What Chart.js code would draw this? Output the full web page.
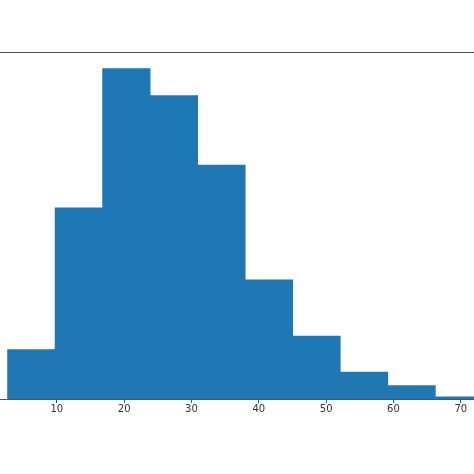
<!DOCTYPE html>
<html>
<head>
<meta charset="utf-8">
<script src="https://cdn.jsdelivr.net/npm/chart.js@4/dist/chart.umd.min.js"></script>
<style>
  html, body { margin: 0; padding: 0; background: #ffffff; }
  #wrap { width: 474px; height: 474px; }
</style>
</head>
<body>
<div id="wrap"><canvas id="c" width="474" height="474"></canvas></div>
<script>
// Histogram data
const binEdges = [2.68, 9.74, 16.80, 23.86, 30.92, 37.98, 45.04, 52.10, 59.16, 66.22, 73.28];
const counts = [22, 85, 147, 135, 104, 53, 28, 12, 6, 1];
const tickValues = [10, 20, 30, 40, 50, 60, 70];

// Visible window of the (cropped) axes
const xMin = 1.56, xMax = 71.96;
const yMin = 0, yMax = 154.35;

const points = counts.map((c, i) => ({ x: (binEdges[i] + binEdges[i + 1]) / 2, y: c }));

const topSpine = {
  id: 'topSpine',
  afterDraw(chart) {
    const { ctx, chartArea } = chart;
    ctx.save();
    ctx.strokeStyle = '#555';
    ctx.lineWidth = 1;
    ctx.beginPath();
    ctx.moveTo(chartArea.left, Math.round(chartArea.top) + 0.5);
    ctx.lineTo(chartArea.right, Math.round(chartArea.top) + 0.5);
    ctx.stroke();
    ctx.restore();
  }
};

new Chart(document.getElementById('c'), {
  type: 'bar',
  data: {
    datasets: [{
      data: points,
      backgroundColor: '#1f77b4',
      borderWidth: 0,
      barPercentage: 1.0,
      categoryPercentage: 1.0
    }]
  },
  options: {
    responsive: false,
    animation: false,
    devicePixelRatio: 1,
    layout: { padding: { top: 52, bottom: 59, left: 0, right: 0 } },
    plugins: { legend: { display: false }, tooltip: { enabled: false } },
    scales: {
      x: {
        type: 'linear',
        min: xMin,
        max: xMax,
        offset: false,
        z: 1,
        border: { display: true, color: '#555', width: 1 },
        grid: { display: true, offset: false, drawOnChartArea: false, drawTicks: true, tickLength: 4, tickColor: '#555' },
        afterBuildTicks(scale) { scale.ticks = tickValues.map(v => ({ value: v })); },
        ticks: {
          includeBounds: false,
          autoSkip: false,
          maxRotation: 0,
          padding: 0,
          color: '#333',
          font: { family: 'DejaVu Sans', size: 10 }
        }
      },
      y: {
        display: false,
        min: yMin,
        max: yMax
      }
    }
  },
  plugins: [topSpine]
});
</script>
</body>
</html>
